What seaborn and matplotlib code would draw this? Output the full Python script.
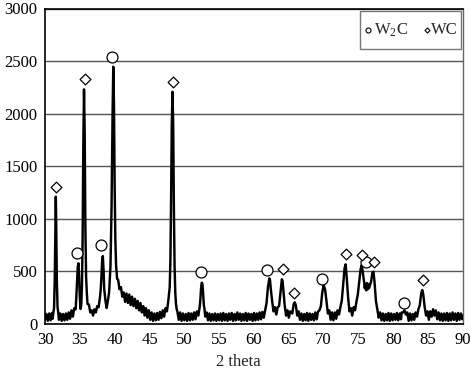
import matplotlib
matplotlib.use("Agg")
import matplotlib.pyplot as plt
from matplotlib.patches import Rectangle
import seaborn as sns
import pandas as pd

# ---------------- data ----------------
two_theta = [
    30.0, 30.2, 30.4, 30.6, 30.8, 31.0, 31.1, 31.2,
    31.3, 31.4, 31.5, 31.55, 31.6, 31.7, 31.8, 31.9,
    32.0, 32.2, 32.4, 32.6, 32.8, 33.0, 33.2, 33.4, 33.6, 33.8, 34.0, 34.2, 34.4,
    34.5, 34.6, 34.7, 34.8, 34.9, 35.0, 35.1, 35.2,
    35.3, 35.4, 35.5, 35.6, 35.7, 35.8, 35.9, 36.0, 36.1, 36.3, 36.5, 36.7, 36.9, 37.1, 37.3, 37.5, 37.7, 37.9,
    38.0, 38.1, 38.2, 38.3, 38.4, 38.5, 38.7, 38.85, 39.0, 39.2,
    39.4, 39.55, 39.7, 39.8, 39.9, 40.0, 40.1, 40.2, 40.35, 40.5, 40.7, 40.9,
    41.1, 41.3, 41.5, 41.7, 41.9, 42.1, 42.3, 42.5, 42.7, 42.9, 43.1, 43.3,
    43.5, 43.7, 43.9, 44.1, 44.3, 44.5, 44.7, 44.9, 45.1, 45.3, 45.5, 45.7,
    45.9, 46.1, 46.3, 46.5, 46.7, 46.9, 47.1, 47.3, 47.5, 47.7, 47.9,
    48.0, 48.1, 48.2, 48.3, 48.4, 48.5, 48.6, 48.7, 48.8, 48.9, 49.0,
    49.2, 49.4, 49.6, 49.8, 50.0, 50.2, 50.4, 50.6, 50.8, 51.0, 51.2, 51.4, 51.6, 51.8, 52.0, 52.2,
    52.3, 52.4, 52.5, 52.6, 52.7, 52.8, 52.9, 53.0,
    53.2, 53.4, 53.6, 53.8, 54.0, 54.2, 54.4, 54.6, 54.8,
    55.0, 55.2, 55.4, 55.6, 55.8, 56.0, 56.2, 56.4, 56.6, 56.8, 57.0, 57.2, 57.4, 57.6, 57.8,
    58.0, 58.2, 58.4, 58.6, 58.8, 59.0, 59.2, 59.4, 59.6, 59.8, 60.0, 60.2, 60.4, 60.6, 60.8,
    61.0, 61.2, 61.4,
    61.6, 61.8, 62.0, 62.2, 62.3, 62.4, 62.6, 62.8, 63.0, 63.2, 63.4, 63.6,
    63.8, 64.0, 64.1, 64.2, 64.4, 64.6, 64.8, 65.0, 65.2, 65.5,
    65.7, 65.85, 66.0, 66.2, 66.4, 66.6,
    66.8, 67.0, 67.2, 67.4, 67.6, 67.8, 68.0, 68.2, 68.4, 68.6, 68.8, 69.0, 69.2,
    69.4, 69.6, 69.8, 70.0, 70.2, 70.4, 70.6, 70.8, 71.0, 71.2, 71.4, 71.6, 71.8, 72.0, 72.2, 72.4, 72.6,
    72.8, 73.0, 73.15, 73.3, 73.5, 73.7, 73.9, 74.1, 74.3, 74.5, 74.7,
    74.9, 75.1, 75.3, 75.45, 75.6, 75.8, 75.9, 76.0, 76.1, 76.2, 76.3, 76.4, 76.5, 76.6, 76.8,
    77.0, 77.15, 77.3, 77.5, 77.7, 77.9, 78.1,
    78.3, 78.5, 78.7, 78.9, 79.1, 79.3, 79.5, 79.7, 79.9, 80.1, 80.3, 80.5, 80.7, 80.9, 81.1, 81.2,
    81.4, 81.6, 81.8, 82.0,
    82.2, 82.4, 82.6, 82.8, 83.0, 83.2, 83.4,
    83.6, 83.8, 84.0, 84.15, 84.3, 84.5, 84.7, 84.9,
    85.1, 85.3, 85.5, 85.7, 85.9, 86.1, 86.3, 86.5, 86.7, 86.9, 87.1, 87.3, 87.5, 87.7, 87.9,
    88.1, 88.3, 88.5, 88.7, 88.9, 89.1, 89.3, 89.5, 89.7, 89.9, 90.0,
]
intensity = [
    40, 95, 30, 100, 35, 105, 50, 110,
    150, 420, 1000, 1210, 1000, 420, 160, 110,
    40, 100, 30, 95, 35, 100, 40, 110, 50, 130, 70, 150, 140,
    260, 400, 540, 577, 450, 250, 143, 180,
    350, 800, 1700, 2231, 1800, 900, 450, 300, 190, 185, 110, 130, 80, 140, 110, 170, 160, 260,
    330, 450, 600, 646, 520, 330, 210, 152, 210, 300,
    550, 1100, 2000, 2446, 2100, 1300, 800, 560, 430, 420, 330, 350,
    260, 300, 210, 290, 200, 280, 180, 260, 170, 240, 150, 220,
    130, 200, 110, 170, 80, 150, 60, 130, 40, 110, 30, 100,
    35, 105, 40, 115, 55, 130, 70, 150, 120, 220, 350,
    600, 1200, 1900, 2208, 1900, 1100, 550, 300, 190, 140, 120,
    40, 110, 30, 100, 35, 95, 30, 105, 35, 100, 40, 110, 45, 120, 80, 160,
    230, 340, 393, 380, 290, 180, 140, 70,
    110, 35, 100, 30, 95, 35, 100, 30, 95,
    35, 100, 30, 105, 35, 95, 30, 100, 40, 105, 30, 95, 35, 110, 40,
    100, 30, 95, 35, 105, 30, 100, 40, 95, 30, 105, 35, 100, 40, 110,
    45, 115, 60,
    130, 200, 350, 434, 420, 340, 220, 120, 160, 90, 160, 170,
    300, 425, 410, 330, 180, 80, 130, 60, 120, 100,
    190, 206, 180, 80, 120, 40,
    100, 30, 95, 35, 105, 30, 100, 40, 95, 35, 110, 45, 120,
    130, 170, 300, 370, 330, 220, 100, 130, 40, 110, 35, 110, 50, 130, 90, 160, 220,
    380, 530, 567, 450, 260, 120, 150, 80, 160, 130, 210,
    280, 400, 520, 560, 500, 400, 340, 380, 320, 390, 330, 380, 340, 360, 400,
    490, 497, 400, 220, 140, 60, 110,
    35, 100, 30, 95, 35, 105, 30, 100, 35, 95, 40, 105, 35, 100, 45, 110,
    110, 130, 90, 110,
    30, 100, 35, 95, 40, 110, 70,
    140, 180, 290, 323, 280, 160, 80, 120,
    40, 120, 70, 140, 80, 130, 45, 110, 35, 100, 30, 100, 35, 105, 30,
    100, 35, 110, 40, 100, 30, 105, 40, 100, 45, 80,
]

# phase marker annotations
w2c_theta = [34.55, 38.03, 39.61, 52.34, 61.9, 69.8, 76.05, 81.46]
w2c_level = [678, 748, 2535, 491, 513, 431, 592, 203]
wc_theta = [31.58, 35.74, 48.32, 64.1, 65.77, 73.19, 75.48, 77.2, 84.19]
wc_level = [1305, 2326, 2300, 520, 298, 662, 659, 592, 418]

x_ticks = [30, 35, 40, 45, 50, 55, 60, 65, 70, 75, 80, 85, 90]
y_ticks = [0, 500, 1000, 1500, 2000, 2500, 3000]
x_label = "2 theta"
legend_labels = ["W$_2$C", "WC"]

assert len(two_theta) == len(intensity)

# ---------------- plot ----------------
sns.set_style("white")
plt.rcParams["font.family"] = ["Liberation Serif", "DejaVu Serif"]
plt.rcParams["mathtext.fontset"] = "custom"
plt.rcParams["mathtext.rm"] = "Liberation Serif"
plt.rcParams["mathtext.it"] = "Liberation Serif:italic"

fig = plt.figure(figsize=(4.74, 3.72), dpi=100)
ax = fig.add_axes([45 / 474, 1 - 324 / 372, 418 / 474, 315.5 / 372])

df = pd.DataFrame({"two_theta": two_theta, "intensity": intensity})
sns.lineplot(data=df, x="two_theta", y="intensity", ax=ax, color="black",
             linewidth=1.75, estimator=None, sort=False, zorder=3)

sns.scatterplot(x=w2c_theta, y=w2c_level, ax=ax, marker="o", s=62,
                facecolor="white", edgecolor="black", linewidth=0.9, zorder=4)
sns.scatterplot(x=wc_theta, y=wc_level, ax=ax, marker="D", s=30,
                facecolor="white", edgecolor="black", linewidth=0.9, zorder=4)

ax.set_xlim(30, 90)
ax.set_ylim(0, 3000)
ax.set_xticks(x_ticks)
ax.set_yticks(y_ticks)
ax.tick_params(axis="x", direction="out", length=2.5, width=1, color="black",
               labelsize=12, pad=3.5, labelcolor="black")
ax.tick_params(axis="y", direction="out", length=3, width=1, color="black",
               labelsize=12, pad=2.5, labelcolor="black")
ax.set_xlabel(x_label, fontsize=12)
ax.xaxis.set_label_coords(0.462, -0.094)
ax.set_ylabel("")

ax.yaxis.grid(True, color="#555555", linewidth=1.0)
ax.xaxis.grid(False)
ax.set_axisbelow(True)

for side in ["left", "bottom", "top"]:
    ax.spines[side].set_color("black")
    ax.spines[side].set_linewidth(1.2)
ax.spines["right"].set_color("#666666")
ax.spines["right"].set_linewidth(1.0)

# legend box drawn in axes coordinates
ax.add_patch(Rectangle((0.7536, 0.8716), 0.2416, 0.1204, transform=ax.transAxes,
                       facecolor="white", edgecolor="#777777", linewidth=1.0,
                       zorder=5, clip_on=False))
ax.plot([0.7727], [0.932], transform=ax.transAxes, marker="o", markersize=3.6,
        markerfacecolor="white", markeredgecolor="black", markeredgewidth=0.8,
        linestyle="none", zorder=6, clip_on=False)
ax.text(0.7871, 0.932, legend_labels[0], transform=ax.transAxes, fontsize=12,
        ha="left", va="center", zorder=6)
ax.plot([0.9132], [0.932], transform=ax.transAxes, marker="D", markersize=2.6,
        markerfacecolor="white", markeredgecolor="black", markeredgewidth=0.8,
        linestyle="none", zorder=6, clip_on=False)
ax.text(0.9245, 0.932, legend_labels[1], transform=ax.transAxes, fontsize=12,
        ha="left", va="center", zorder=6)

fig.savefig("out.png", dpi=100)
